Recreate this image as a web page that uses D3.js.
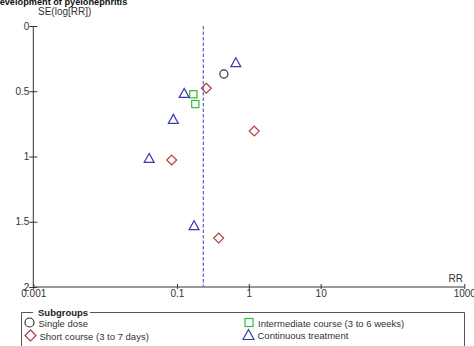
<!DOCTYPE html>
<html><head><meta charset="utf-8">
<script src="https://cdn.jsdelivr.net/npm/d3@7"></script>
<style>body{margin:0;background:#fff;overflow:hidden}svg{display:block}</style>
</head><body>
<script>
const title = "Development of pyelonephritis";
const xTicks = [0.001, 0.1, 1, 10, 1000];
const xTickLabels = ["0.001", "0.1", "1", "10", "1000"];
const yTicks = [0, 0.5, 1, 1.5, 2];
const yTickLabels = ["0", "0.5", "1", "1.5", "2"];
const pooledRR = 0.233;
const subgroups = ["Single dose", "Short course (3 to 7 days)", "Intermediate course (3 to 6 weeks)", "Continuous treatment"];
const singleRR = [0.45];
const singleSE = [0.368];
const shortRR = [0.256, 1.19, 0.0845, 0.381];
const shortSE = [0.477, 0.805, 1.027, 1.625];
const interRR = [0.169, 0.180];
const interSE = [0.523, 0.598];
const contRR = [0.66, 0.126, 0.089, 0.041, 0.173];
const contSE = [0.281, 0.516, 0.715, 1.014, 1.530];

const W = 474, H = 346;
const FF = "'Liberation Sans', Arial, sans-serif";
const svg = d3.select("body").append("svg").attr("width", W).attr("height", H)
  .style("font-family", FF);

const x = d3.scaleLog().domain([0.001, 1000]).range([33.3, 464.3]);
const y = d3.scaleLinear().domain([0, 2]).range([26, 287]);
const axisCol = "#333";

svg.append("text").attr("x", -7).attr("y", 5).attr("font-size", 9.2).attr("font-weight", "bold")
  .attr("fill", "#111").text(title);

// Y axis
const ya = svg.append("g").attr("transform", `translate(${x(0.001)},0)`)
  .call(d3.axisLeft(y).tickValues(yTicks).tickFormat((d, i) => yTickLabels[i]).tickSize(4));
ya.select(".domain").attr("stroke", axisCol).attr("d", `M0,${y(0)}V${y(2)}`);
ya.selectAll(".tick line").attr("stroke", axisCol).attr("x1", -4).attr("x2", 4);
ya.selectAll(".tick text").attr("font-size", 10).attr("fill", "#333").attr("x", -4).attr("font-family", FF);

// X axis
const xa = svg.append("g").attr("transform", `translate(0,${y(2)})`)
  .call(d3.axisBottom(x).tickValues(xTicks).tickFormat((d, i) => xTickLabels[i]).tickSize(3));
xa.select(".domain").attr("stroke", axisCol).attr("d", `M${x(0.001)},0H${x(1000)}`);
xa.selectAll(".tick line").attr("stroke", axisCol).attr("y1", -3).attr("y2", 2);
xa.selectAll(".tick text").attr("font-size", 10).attr("fill", "#333").attr("y", 3).attr("font-family", FF);

svg.append("text").attr("x", 38).attr("y", 15).attr("font-size", 10).attr("fill", "#333").text("SE(log[RR])");
svg.append("text").attr("x", 463).attr("y", 282).attr("font-size", 10).attr("fill", "#333").attr("text-anchor", "end").text("RR");

// pooled line
svg.append("line").attr("x1", x(pooledRR)).attr("x2", x(pooledRR)).attr("y1", y(0)).attr("y2", y(2))
  .attr("stroke", "#6b6bd0").attr("stroke-width", 1.3).attr("stroke-dasharray", "3.5,2");

const colors = {circle: "#333", diamond: "#b23a3a", square: "#33bb33", triangle: "#3a3ab5"};
function marker(g, type, cx, cy, s) {
  if (type === "circle") g.append("circle").attr("cx", cx).attr("cy", cy).attr("r", s * 0.45);
  else if (type === "square") g.append("rect").attr("x", cx - s * 0.4).attr("y", cy - s * 0.4).attr("width", s * 0.8).attr("height", s * 0.8);
  else if (type === "diamond") g.append("path").attr("d", `M${cx},${cy - s * 0.55}L${cx + s * 0.55},${cy}L${cx},${cy + s * 0.55}L${cx - s * 0.55},${cy}Z`);
  else g.append("path").attr("d", `M${cx},${cy - s * 0.55}L${cx + s * 0.55},${cy + s * 0.45}L${cx - s * 0.55},${cy + s * 0.45}Z`);
}
const series = [
  {type: "circle", rr: singleRR, se: singleSE},
  {type: "diamond", rr: shortRR, se: shortSE},
  {type: "square", rr: interRR, se: interSE},
  {type: "triangle", rr: contRR, se: contSE}
];
series.forEach(s => {
  const g = svg.append("g").attr("fill", "none").attr("stroke", colors[s.type]).attr("stroke-width", 1.2);
  s.rr.forEach((v, i) => marker(g, s.type, x(v), y(s.se[i]), 9));
});

// legend
const lg = svg.append("g");
lg.append("path").attr("d", `M33,312.5H21.5V350M464.5,350V312.5H90`).attr("fill", "none").attr("stroke", "#555");
lg.append("text").attr("x", 38).attr("y", 316).attr("font-size", 9.5).attr("font-weight", "bold").attr("fill", "#222").text("Subgroups");
const items = [
  {type: "circle", x: 29.5, y: 322.5},
  {type: "diamond", x: 30.5, y: 335.5},
  {type: "square", x: 249, y: 322.5},
  {type: "triangle", x: 248.5, y: 335}
];
items.forEach((it, i) => {
  const g = lg.append("g").attr("fill", "none").attr("stroke", colors[it.type]).attr("stroke-width", 1.2);
  marker(g, it.type, it.x, it.y, 10);
  lg.append("text").attr("x", it.x + 9).attr("y", it.y + 4).attr("font-size", 9.5).attr("fill", "#333").text(subgroups[i]);
});
</script>
</body></html>
